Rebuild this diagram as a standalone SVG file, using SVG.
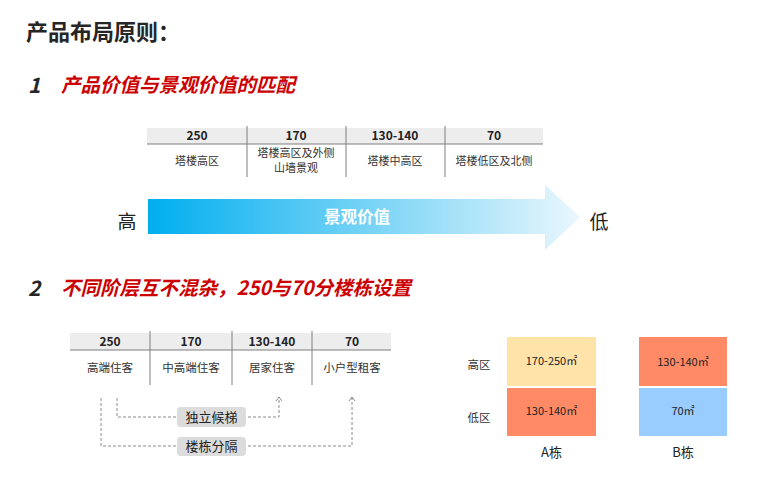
<svg xmlns="http://www.w3.org/2000/svg" width="760" height="478" viewBox="0 0 760 478">
<style>
text{font-family:"Noto Sans CJK SC","Noto Sans",sans-serif;}
.t{font-size:22px;font-weight:bold;fill:#262626;}
.num{font-size:21px;font-weight:bold;font-style:italic;fill:#262626;}
.h{font-size:19.5px;font-weight:bold;font-style:italic;fill:#CC0000;}
.th{font-size:12px;font-weight:bold;fill:#222;text-anchor:middle;}
.td{font-size:11px;fill:#333;text-anchor:middle;}
.td2{font-size:11.5px;fill:#333;text-anchor:middle;}
.hdr{fill:#EDEDED;}
.sep{stroke:#7F7F7F;stroke-width:1.2;}
.vl{stroke:#7F7F7F;stroke-width:1;}
.dash{fill:none;stroke:#8C8C8C;stroke-width:1;stroke-dasharray:3,2;}
.lbl{fill:#DCDCDC;}
.lt{font-size:13px;fill:#222;text-anchor:middle;}
.bt{font-size:11px;fill:#222;text-anchor:middle;}
.side{font-size:11.5px;fill:#333;text-anchor:middle;}
</style>
<defs>
<linearGradient id="g" x1="0" y1="0" x2="1" y2="0">
<stop offset="0" stop-color="#00AEEF"/>
<stop offset="1" stop-color="#EAF7FD"/>
</linearGradient>
<marker id="ah" viewBox="0 0 8 8" refX="7" refY="4" markerWidth="8" markerHeight="8" orient="auto" markerUnits="userSpaceOnUse">
<path d="M3,1 L7,4 L3,7" fill="none" stroke="#8C8C8C" stroke-width="1"/>
</marker>
</defs>
<rect width="760" height="478" fill="#fff"/>
<text class="t" x="26" y="40">产品布局原则：</text>
<text class="num" x="28" y="93">1</text>
<text class="h" x="61" y="92">产品价值与景观价值的匹配</text>
<text class="num" x="28" y="296">2</text>
<text class="h" x="61" y="295">不同阶层互不混杂，250与70分楼栋设置</text>

<g id="table1">
<rect class="hdr" x="147" y="128" width="396" height="16"/>
<line class="sep" x1="147" y1="144" x2="543" y2="144"/>
<line class="vl" x1="247" y1="126" x2="247" y2="177"/>
<line class="vl" x1="346" y1="126" x2="346" y2="177"/>
<line class="vl" x1="445" y1="126" x2="445" y2="177"/>
<text class="th" x="197" y="140">250</text>
<text class="th" x="296" y="140">170</text>
<text class="th" x="395" y="140">130-140</text>
<text class="th" x="494" y="140">70</text>
<text class="td" x="197" y="165">塔楼高区</text>
<text class="td" x="296" y="157">塔楼高区及外侧</text>
<text class="td" x="296" y="172">山墙景观</text>
<text class="td" x="395" y="165">塔楼中高区</text>
<text class="td" x="494" y="165">塔楼低区及北侧</text>
</g>

<g id="arrow">
<path d="M148,199 L545,199 L545,185 L580,217 L545,250 L545,234 L148,234 Z" fill="url(#g)"/>
<text x="357" y="223" font-size="16.5" font-weight="bold" fill="#fff" text-anchor="middle">景观价值</text>
<text x="127" y="229" font-size="19" fill="#222" text-anchor="middle">高</text>
<text x="599" y="229" font-size="19" fill="#222" text-anchor="middle">低</text>
</g>

<g id="table2">
<rect class="hdr" x="70" y="333" width="321" height="17"/>
<line class="sep" x1="70" y1="350" x2="391" y2="350"/>
<line class="vl" x1="150" y1="331" x2="150" y2="385"/>
<line class="vl" x1="232" y1="331" x2="232" y2="385"/>
<line class="vl" x1="312" y1="331" x2="312" y2="385"/>
<text class="th" x="110" y="346">250</text>
<text class="th" x="191" y="346">170</text>
<text class="th" x="272" y="346">130-140</text>
<text class="th" x="352" y="346">70</text>
<text class="td2" x="110" y="372">高端住客</text>
<text class="td2" x="191" y="372">中高端住客</text>
<text class="td2" x="272" y="372">居家住客</text>
<text class="td2" x="352" y="372">小户型租客</text>
</g>

<g id="connectors">
<path class="dash" d="M117,398 L117,417 L279,417 L279,397" marker-end="url(#ah)"/>
<path class="dash" d="M101,398 L101,446 L352,446 L352,397" marker-end="url(#ah)"/>
</g>

<g id="label-duli">
<rect class="lbl" x="177" y="407" width="69" height="20" rx="4"/>
<text class="lt" x="211.5" y="422">独立候梯</text>
</g>
<g id="label-loudong">
<rect class="lbl" x="177" y="437" width="69" height="19" rx="4"/>
<text class="lt" x="211.5" y="451">楼栋分隔</text>
</g>

<g id="buildings">
<text class="side" x="479" y="369">高区</text>
<text class="side" x="479" y="422">低区</text>
<rect x="507" y="337" width="89" height="49" fill="#FFE3A8"/>
<rect x="507" y="388" width="89" height="48" fill="#FF8A65"/>
<rect x="639" y="337" width="88" height="49" fill="#FF8A65"/>
<rect x="639" y="388" width="88" height="48" fill="#99CCFF"/>
<text class="bt" x="551.5" y="365">170-250㎡</text>
<text class="bt" x="551.5" y="415">130-140㎡</text>
<text class="bt" x="683" y="366">130-140㎡</text>
<text class="bt" x="683" y="415">70㎡</text>
<text x="551.5" y="457" font-size="13" fill="#222" text-anchor="middle">A栋</text>
<text x="683" y="457" font-size="13" fill="#222" text-anchor="middle">B栋</text>
</g>
</svg>
